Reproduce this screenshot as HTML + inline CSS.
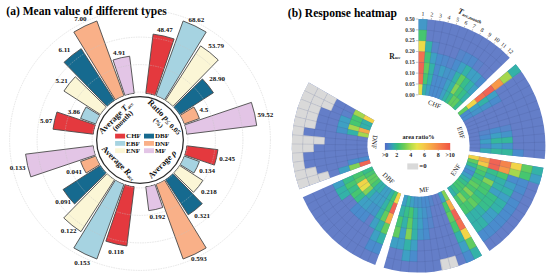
<!DOCTYPE html>
<html><head><meta charset="utf-8"><style>
html,body{margin:0;padding:0;background:#fff;}
svg{display:block;}
text{font-family:"Liberation Serif", serif;}
.vl{font-size:7px;font-weight:bold;fill:#111;}
.hl{font-size:8.5px;font-weight:bold;fill:#111;}
.hl2{font-size:6.5px;font-weight:bold;fill:#111;}
.hl3{font-size:7.4px;font-weight:bold;fill:#111;}
.lg{font-size:7px;font-weight:bold;fill:#111;}
.yl{font-size:5.4px;font-weight:bold;fill:#3a3a3a;}
.rl{font-size:7.6px;font-weight:bold;fill:#222;}
.ml{font-size:5.8px;fill:#222;}
.tl{font-size:8px;font-weight:bold;fill:#222;}
.sl{font-size:6.8px;fill:#222;}
.cbt{font-size:6.2px;font-weight:bold;fill:#222;}
.cbl{font-size:6px;font-weight:bold;fill:#222;}
.ttl{font-size:11.55px;font-weight:bold;fill:#000;}
</style></head><body>
<svg width="550" height="279" viewBox="0 0 550 279" xmlns="http://www.w3.org/2000/svg">
<rect width="550" height="279" fill="#fff"/>
<text x="6.3" y="15.2" class="ttl">(a) Mean value of different types</text>
<text x="287.8" y="16.5" class="ttl">(b) Response heatmap</text>
<g id="left">
<path d="M145.77,93.36L153.11,34.13A106.68,106.68 0 0 1 174.13,38.93L155.04,95.47A47.00,47.00 0 0 0 145.77,93.36Z" fill="#e4393e" stroke="#4a4a4a" stroke-width="0.9"/>
<path d="M156.01,95.81L183.12,20.97A126.60,126.60 0 0 1 206.18,32.07L164.57,99.93A47.00,47.00 0 0 0 156.01,95.81Z" fill="#a6d3e1" stroke="#4a4a4a" stroke-width="0.9"/>
<path d="M165.44,100.48L200.59,45.88A111.94,111.94 0 0 1 218.28,59.99L172.87,106.40A47.00,47.00 0 0 0 165.44,100.48Z" fill="#fbf6d6" stroke="#4a4a4a" stroke-width="0.9"/>
<path d="M173.60,107.13L202.42,78.93A87.33,87.33 0 0 1 213.43,92.73L179.52,114.56A47.00,47.00 0 0 0 173.60,107.13Z" fill="#166a8f" stroke="#4a4a4a" stroke-width="0.9"/>
<path d="M180.07,115.43L193.88,106.96A63.20,63.20 0 0 1 199.42,118.47L184.19,123.99A47.00,47.00 0 0 0 180.07,115.43Z" fill="#f9b088" stroke="#4a4a4a" stroke-width="0.9"/>
<path d="M184.53,124.96L251.42,102.38A117.60,117.60 0 0 1 256.71,125.55L186.64,134.23A47.00,47.00 0 0 0 184.53,124.96Z" fill="#e3c5e6" stroke="#4a4a4a" stroke-width="0.9"/>
<path d="M186.64,145.77L217.94,149.65A78.53,78.53 0 0 1 214.41,165.12L184.53,155.04A47.00,47.00 0 0 0 186.64,145.77Z" fill="#e4393e" stroke="#4a4a4a" stroke-width="0.9"/>
<path d="M184.19,156.01L199.42,161.53A63.20,63.20 0 0 1 193.88,173.04L180.07,164.57A47.00,47.00 0 0 0 184.19,156.01Z" fill="#a6d3e1" stroke="#4a4a4a" stroke-width="0.9"/>
<path d="M179.52,165.44L202.90,180.49A74.80,74.80 0 0 1 193.47,192.31L173.60,172.87A47.00,47.00 0 0 0 179.52,165.44Z" fill="#fbf6d6" stroke="#4a4a4a" stroke-width="0.9"/>
<path d="M172.87,173.60L202.26,203.64A89.03,89.03 0 0 1 188.19,214.86L165.44,179.52A47.00,47.00 0 0 0 172.87,173.60Z" fill="#166a8f" stroke="#4a4a4a" stroke-width="0.9"/>
<path d="M164.57,180.07L206.18,247.93A126.60,126.60 0 0 1 183.12,259.03L156.01,184.19A47.00,47.00 0 0 0 164.57,180.07Z" fill="#f9b088" stroke="#4a4a4a" stroke-width="0.9"/>
<path d="M155.04,184.53L162.78,207.47A71.21,71.21 0 0 1 148.75,210.67L145.77,186.64A47.00,47.00 0 0 0 155.04,184.53Z" fill="#e3c5e6" stroke="#4a4a4a" stroke-width="0.9"/>
<path d="M134.23,186.64L126.88,245.98A106.79,106.79 0 0 1 105.84,241.18L124.96,184.53A47.00,47.00 0 0 0 134.23,186.64Z" fill="#e4393e" stroke="#4a4a4a" stroke-width="0.9"/>
<path d="M123.99,184.19L96.88,259.03A126.60,126.60 0 0 1 73.82,247.93L115.43,180.07A47.00,47.00 0 0 0 123.99,184.19Z" fill="#a6d3e1" stroke="#4a4a4a" stroke-width="0.9"/>
<path d="M114.56,179.52L80.97,231.69A109.05,109.05 0 0 1 63.74,217.95L107.13,173.60A47.00,47.00 0 0 0 114.56,179.52Z" fill="#fbf6d6" stroke="#4a4a4a" stroke-width="0.9"/>
<path d="M106.40,172.87L74.59,203.99A91.50,91.50 0 0 1 63.06,189.53L100.48,165.44A47.00,47.00 0 0 0 106.40,172.87Z" fill="#166a8f" stroke="#4a4a4a" stroke-width="0.9"/>
<path d="M99.93,164.57L86.12,173.04A63.20,63.20 0 0 1 80.58,161.53L95.81,156.01A47.00,47.00 0 0 0 99.93,164.57Z" fill="#f9b088" stroke="#4a4a4a" stroke-width="0.9"/>
<path d="M95.47,155.04L30.78,176.88A115.28,115.28 0 0 1 25.59,154.16L93.36,145.77A47.00,47.00 0 0 0 95.47,155.04Z" fill="#e3c5e6" stroke="#4a4a4a" stroke-width="0.9"/>
<path d="M93.36,134.23L53.03,129.23A87.63,87.63 0 0 1 56.97,111.97L95.47,124.96A47.00,47.00 0 0 0 93.36,134.23Z" fill="#e4393e" stroke="#4a4a4a" stroke-width="0.9"/>
<path d="M95.81,123.99L80.58,118.47A63.20,63.20 0 0 1 86.12,106.96L99.93,115.43A47.00,47.00 0 0 0 95.81,123.99Z" fill="#a6d3e1" stroke="#4a4a4a" stroke-width="0.9"/>
<path d="M100.48,114.56L63.94,91.04A90.46,90.46 0 0 1 75.34,76.74L106.40,107.13A47.00,47.00 0 0 0 100.48,114.56Z" fill="#fbf6d6" stroke="#4a4a4a" stroke-width="0.9"/>
<path d="M107.13,106.40L64.03,62.35A108.63,108.63 0 0 1 81.20,48.66L114.56,100.48A47.00,47.00 0 0 0 107.13,106.40Z" fill="#166a8f" stroke="#4a4a4a" stroke-width="0.9"/>
<path d="M115.43,99.93L73.82,32.07A126.60,126.60 0 0 1 96.88,20.97L123.99,95.81A47.00,47.00 0 0 0 115.43,99.93Z" fill="#f9b088" stroke="#4a4a4a" stroke-width="0.9"/>
<path d="M124.96,95.47L113.00,60.03A84.40,84.40 0 0 1 129.63,56.24L134.23,93.36A47.00,47.00 0 0 0 124.96,95.47Z" fill="#e3c5e6" stroke="#4a4a4a" stroke-width="0.9"/>
<circle cx="140.0" cy="140.0" r="47.9" fill="none" stroke="#c4c4c4" stroke-width="0.5" stroke-dasharray="1.6 0.9" opacity="0.8"/>
<circle cx="140.0" cy="140.0" r="75.4" fill="none" stroke="#c4c4c4" stroke-width="0.5" stroke-dasharray="1.6 0.9" opacity="0.8"/>
<circle cx="140.0" cy="140.0" r="102.9" fill="none" stroke="#c4c4c4" stroke-width="0.5" stroke-dasharray="1.6 0.9" opacity="0.8"/>
<circle cx="140.0" cy="140.0" r="130.4" fill="none" stroke="#c4c4c4" stroke-width="0.5" stroke-dasharray="1.6 0.9" opacity="0.8"/>
<circle cx="140.0" cy="140.0" r="46.6" fill="#fff"/>
<circle cx="140.0" cy="140.0" r="43.35" fill="none" stroke="#2a2a2a" stroke-width="1.25"/>
<text x="164.9" y="31.9" text-anchor="middle" class="vl">48.47</text>
<text x="196.3" y="22.0" text-anchor="middle" class="vl">68.62</text>
<text x="216.0" y="47.9" text-anchor="middle" class="vl">53.79</text>
<text x="217.0" y="81.1" text-anchor="middle" class="vl">28.90</text>
<text x="203.8" y="111.5" text-anchor="middle" class="vl">4.5</text>
<text x="265.4" y="116.8" text-anchor="middle" class="vl">59.52</text>
<text x="227.1" y="161.0" text-anchor="middle" class="vl">0.245</text>
<text x="207.0" y="172.9" text-anchor="middle" class="vl">0.134</text>
<text x="208.9" y="193.5" text-anchor="middle" class="vl">0.218</text>
<text x="202.0" y="217.9" text-anchor="middle" class="vl">0.321</text>
<text x="198.9" y="260.8" text-anchor="middle" class="vl">0.593</text>
<text x="157.3" y="218.8" text-anchor="middle" class="vl">0.192</text>
<text x="116.0" y="253.9" text-anchor="middle" class="vl">0.118</text>
<text x="82.1" y="264.5" text-anchor="middle" class="vl">0.153</text>
<text x="68.7" y="233.0" text-anchor="middle" class="vl">0.122</text>
<text x="63.0" y="204.2" text-anchor="middle" class="vl">0.091</text>
<text x="74.1" y="174.2" text-anchor="middle" class="vl">0.041</text>
<text x="17.5" y="170.2" text-anchor="middle" class="vl">0.133</text>
<text x="46.0" y="123.3" text-anchor="middle" class="vl">5.07</text>
<text x="73.8" y="113.9" text-anchor="middle" class="vl">3.86</text>
<text x="61.7" y="83.3" text-anchor="middle" class="vl">5.21</text>
<text x="64.4" y="51.6" text-anchor="middle" class="vl">6.11</text>
<text x="80.4" y="21.4" text-anchor="middle" class="vl">7.00</text>
<text x="119.1" y="54.6" text-anchor="middle" class="vl">4.91</text>
<text x="117.5" y="119.0" transform="rotate(-45 117.5 119.0)" text-anchor="middle" class="hl">Average <tspan font-style="italic">T</tspan><tspan font-size="4.8px" dy="1.2">acc</tspan></text>
<text x="124.2" y="122.6" transform="rotate(-45 124.2 122.6)" text-anchor="middle" class="hl3">(month)</text>
<text x="163.0" y="118.6" transform="rotate(45 163.0 118.6)" text-anchor="middle" class="hl">Ratio <tspan font-style="italic">p</tspan><tspan font-size="7.2px" dy="1.4">≤ 0.05</tspan></text>
<text x="156.6" y="124.4" transform="rotate(45 156.6 124.4)" text-anchor="middle" class="hl2">(%)</text>
<text x="117.0" y="165.1" transform="rotate(45 117.0 165.1)" text-anchor="middle" class="hl">Average <tspan font-style="italic" font-size="9px">R</tspan><tspan font-size="5px" dy="1.2">acc</tspan></text>
<text x="164.2" y="166.2" transform="rotate(-45 164.2 166.2)" text-anchor="middle" class="hl">Average <tspan font-style="italic" font-size="8.6px">ρ</tspan></text>
<rect x="115.1" y="133.7" width="10" height="4.8" fill="#e4393e"/>
<text x="126.1" y="138.39999999999998" class="lg">CHF</text>
<rect x="144.0" y="133.7" width="10" height="4.8" fill="#166a8f"/>
<text x="155.0" y="138.39999999999998" class="lg">DBF</text>
<rect x="115.1" y="141.0" width="10" height="4.8" fill="#a6d3e1"/>
<text x="126.1" y="145.7" class="lg">EBF</text>
<rect x="144.0" y="141.0" width="10" height="4.8" fill="#f9b088"/>
<text x="155.0" y="145.7" class="lg">DNF</text>
<rect x="115.1" y="148.3" width="10" height="4.8" fill="#fbf6d6"/>
<text x="126.1" y="153.0" class="lg">ENF</text>
<rect x="144.0" y="148.3" width="10" height="4.8" fill="#e3c5e6"/>
<text x="155.0" y="153.0" class="lg">MF</text>
</g>
<g id="right">
<path d="M418.60,94.80L418.60,19.00A126.80,126.80 0 0 1 509.81,57.72L455.29,110.37A51.00,51.00 0 0 0 418.60,94.80Z" fill="#647ec8"/>
<path d="M418.60,30.13L418.60,19.00A126.80,126.80 0 0 1 427.63,19.32L426.84,30.42A115.67,115.67 0 0 0 418.60,30.13Z" fill="#4398c8"/>
<path d="M418.60,40.96L418.60,29.83A115.97,115.97 0 0 1 426.86,30.12L426.07,41.22A104.84,104.84 0 0 0 418.60,40.96Z" fill="#46c670"/>
<path d="M418.60,51.79L418.60,40.66A105.14,105.14 0 0 1 426.09,40.92L425.29,52.02A94.01,94.01 0 0 0 418.60,51.79Z" fill="#ebda48"/>
<path d="M424.89,52.00L425.63,40.89A105.14,105.14 0 0 1 433.08,41.66L431.55,52.68A94.01,94.01 0 0 0 424.89,52.00Z" fill="#34b2a8"/>
<path d="M431.14,52.63L432.63,41.60A105.14,105.14 0 0 1 440.01,42.86L437.75,53.76A94.01,94.01 0 0 0 431.14,52.63Z" fill="#5785ca"/>
<path d="M455.33,59.26L459.68,49.02A105.14,105.14 0 0 1 466.47,52.19L461.40,62.09A94.01,94.01 0 0 0 455.33,59.26Z" fill="#5785ca"/>
<path d="M461.04,61.91L466.06,51.98A105.14,105.14 0 0 1 472.62,55.60L466.90,65.14A94.01,94.01 0 0 0 461.04,61.91Z" fill="#4f89cc"/>
<path d="M466.55,64.93L472.23,55.36A105.14,105.14 0 0 1 478.53,59.41L472.19,68.55A94.01,94.01 0 0 0 466.55,64.93Z" fill="#4f89cc"/>
<path d="M471.85,68.32L478.15,59.15A105.14,105.14 0 0 1 484.17,63.61L477.23,72.31A94.01,94.01 0 0 0 471.85,68.32Z" fill="#5c82ca"/>
<path d="M418.60,62.61L418.60,51.49A94.31,94.31 0 0 1 425.32,51.73L424.52,62.83A83.19,83.19 0 0 0 418.60,62.61Z" fill="#f37050"/>
<path d="M424.16,62.80L424.91,51.70A94.31,94.31 0 0 1 431.59,52.38L430.06,63.41A83.19,83.19 0 0 0 424.16,62.80Z" fill="#40c37a"/>
<path d="M429.70,63.36L431.18,52.33A94.31,94.31 0 0 1 437.81,53.46L435.54,64.36A83.19,83.19 0 0 0 429.70,63.36Z" fill="#3ea0c4"/>
<path d="M435.18,64.28L437.40,53.38A94.31,94.31 0 0 1 443.94,54.95L440.95,65.67A83.19,83.19 0 0 0 435.18,64.28Z" fill="#4a8ccd"/>
<path d="M440.60,65.58L443.54,54.84A94.31,94.31 0 0 1 449.95,56.85L446.25,67.35A83.19,83.19 0 0 0 440.60,65.58Z" fill="#4f89cc"/>
<path d="M445.91,67.23L449.56,56.71A94.31,94.31 0 0 1 455.83,59.14L451.44,69.37A83.19,83.19 0 0 0 445.91,67.23Z" fill="#5785ca"/>
<path d="M451.10,69.23L455.45,58.98A94.31,94.31 0 0 1 461.54,61.83L456.47,71.74A83.19,83.19 0 0 0 451.10,69.23Z" fill="#4a8ccd"/>
<path d="M456.15,71.57L461.17,61.64A94.31,94.31 0 0 1 467.06,64.89L461.34,74.43A83.19,83.19 0 0 0 456.15,71.57Z" fill="#3ea0c4"/>
<path d="M461.03,74.25L466.70,64.68A94.31,94.31 0 0 1 472.36,68.31L466.02,77.45A83.19,83.19 0 0 0 461.03,74.25Z" fill="#34b2a8"/>
<path d="M465.72,77.24L472.02,68.07A94.31,94.31 0 0 1 477.42,72.07L470.48,80.77A83.19,83.19 0 0 0 465.72,77.24Z" fill="#3ea0c4"/>
<path d="M470.19,80.55L477.10,71.82A94.31,94.31 0 0 1 482.22,76.17L474.71,84.39A83.19,83.19 0 0 0 470.19,80.55Z" fill="#3ea0c4"/>
<path d="M474.44,84.14L481.91,75.89A94.31,94.31 0 0 1 486.44,80.28L478.44,88.01A83.19,83.19 0 0 0 474.44,84.14Z" fill="#4a8ccd"/>
<path d="M418.60,73.44L418.60,62.31A83.49,83.49 0 0 1 424.54,62.53L423.75,73.63A72.36,72.36 0 0 0 418.60,73.44Z" fill="#f06454"/>
<path d="M423.44,73.60L424.18,62.50A83.49,83.49 0 0 1 430.10,63.11L428.57,74.13A72.36,72.36 0 0 0 423.44,73.60Z" fill="#60cc60"/>
<path d="M428.25,74.09L429.74,63.06A83.49,83.49 0 0 1 435.60,64.06L433.33,74.96A72.36,72.36 0 0 0 428.25,74.09Z" fill="#34b2a8"/>
<path d="M433.03,74.90L435.24,63.99A83.49,83.49 0 0 1 441.03,65.38L438.04,76.10A72.36,72.36 0 0 0 433.03,74.90Z" fill="#4a8ccd"/>
<path d="M437.73,76.02L440.68,65.29A83.49,83.49 0 0 1 446.35,67.06L442.65,77.56A72.36,72.36 0 0 0 437.73,76.02Z" fill="#3ea0c4"/>
<path d="M442.36,77.45L446.01,66.94A83.49,83.49 0 0 1 451.56,69.09L447.16,79.32A72.36,72.36 0 0 0 442.36,77.45Z" fill="#4594c9"/>
<path d="M446.87,79.19L451.22,68.95A83.49,83.49 0 0 1 456.61,71.47L451.54,81.38A72.36,72.36 0 0 0 446.87,79.19Z" fill="#4594c9"/>
<path d="M451.26,81.23L456.29,71.30A83.49,83.49 0 0 1 461.49,74.18L455.78,83.72A72.36,72.36 0 0 0 451.26,81.23Z" fill="#34b2a8"/>
<path d="M455.51,83.56L461.18,73.99A83.49,83.49 0 0 1 466.19,77.20L459.84,86.35A72.36,72.36 0 0 0 455.51,83.56Z" fill="#60cc60"/>
<path d="M459.58,86.17L465.89,77.00A83.49,83.49 0 0 1 470.67,80.54L463.73,89.24A72.36,72.36 0 0 0 459.58,86.17Z" fill="#38be8a"/>
<path d="M463.48,89.04L470.38,80.31A83.49,83.49 0 0 1 474.91,84.17L467.41,92.38A72.36,72.36 0 0 0 463.48,89.04Z" fill="#34b2a8"/>
<path d="M467.17,92.17L474.64,83.92A83.49,83.49 0 0 1 478.65,87.81L470.65,95.54A72.36,72.36 0 0 0 467.17,92.17Z" fill="#3ea0c4"/>
<path d="M418.60,84.27L418.60,73.14A72.66,72.66 0 0 1 423.77,73.33L422.98,84.43A61.53,61.53 0 0 0 418.60,84.27Z" fill="#f37050"/>
<path d="M422.71,84.41L423.46,73.31A72.66,72.66 0 0 1 428.61,73.84L427.07,84.86A61.53,61.53 0 0 0 422.71,84.41Z" fill="#46c670"/>
<path d="M426.81,84.82L428.29,73.79A72.66,72.66 0 0 1 433.40,74.67L431.13,85.56A61.53,61.53 0 0 0 426.81,84.82Z" fill="#34b2a8"/>
<path d="M430.87,85.51L433.09,74.60A72.66,72.66 0 0 1 438.12,75.81L435.13,86.53A61.53,61.53 0 0 0 430.87,85.51Z" fill="#4a8ccd"/>
<path d="M434.87,86.46L437.81,75.73A72.66,72.66 0 0 1 442.75,77.28L439.05,87.77A61.53,61.53 0 0 0 434.87,86.46Z" fill="#4a8ccd"/>
<path d="M438.80,87.68L442.45,77.17A72.66,72.66 0 0 1 447.28,79.04L442.89,89.27A61.53,61.53 0 0 0 438.80,87.68Z" fill="#4a8ccd"/>
<path d="M442.64,89.16L446.99,78.92A72.66,72.66 0 0 1 451.68,81.11L446.61,91.02A61.53,61.53 0 0 0 442.64,89.16Z" fill="#3ea0c4"/>
<path d="M446.37,90.90L451.40,80.97A72.66,72.66 0 0 1 455.93,83.47L450.21,93.01A61.53,61.53 0 0 0 446.37,90.90Z" fill="#34b2a8"/>
<path d="M449.98,92.88L455.66,83.30A72.66,72.66 0 0 1 460.01,86.10L453.67,95.25A61.53,61.53 0 0 0 449.98,92.88Z" fill="#82d256"/>
<path d="M453.45,95.09L459.75,85.92A72.66,72.66 0 0 1 463.91,89.00L456.97,97.70A61.53,61.53 0 0 0 453.45,95.09Z" fill="#46c670"/>
<path d="M456.76,97.54L463.66,88.81A72.66,72.66 0 0 1 467.61,92.16L460.10,100.38A61.53,61.53 0 0 0 456.76,97.54Z" fill="#38be8a"/>
<path d="M459.90,100.20L467.37,91.95A72.66,72.66 0 0 1 470.87,95.33L462.86,103.06A61.53,61.53 0 0 0 459.90,100.20Z" fill="#34b2a8"/>
<path d="M418.60,94.80L418.60,83.97A61.83,61.83 0 0 1 423.00,84.13L422.23,94.93A51.00,51.00 0 0 0 418.60,94.80Z" fill="#e6de48"/>
<path d="M422.01,94.91L422.73,84.11A61.83,61.83 0 0 1 427.12,84.56L425.62,95.29A51.00,51.00 0 0 0 422.01,94.91Z" fill="#34b2a8"/>
<path d="M425.40,95.26L426.85,84.52A61.83,61.83 0 0 1 431.19,85.27L428.99,95.87A51.00,51.00 0 0 0 425.40,95.26Z" fill="#3ea0c4"/>
<path d="M428.77,95.82L430.93,85.21A61.83,61.83 0 0 1 435.21,86.24L432.30,96.67A51.00,51.00 0 0 0 428.77,95.82Z" fill="#4a8ccd"/>
<path d="M432.09,96.62L434.95,86.17A61.83,61.83 0 0 1 439.15,87.49L435.55,97.70A51.00,51.00 0 0 0 432.09,96.62Z" fill="#4a8ccd"/>
<path d="M435.34,97.63L438.90,87.40A61.83,61.83 0 0 1 443.01,88.99L438.73,98.94A51.00,51.00 0 0 0 435.34,97.63Z" fill="#4a8ccd"/>
<path d="M438.53,98.85L442.76,88.89A61.83,61.83 0 0 1 446.75,90.75L441.82,100.39A51.00,51.00 0 0 0 438.53,98.85Z" fill="#3ea0c4"/>
<path d="M441.62,100.29L446.51,90.63A61.83,61.83 0 0 1 450.37,92.76L444.80,102.05A51.00,51.00 0 0 0 441.62,100.29Z" fill="#34b2a8"/>
<path d="M444.61,101.93L450.14,92.62A61.83,61.83 0 0 1 453.84,95.00L447.67,103.90A51.00,51.00 0 0 0 444.61,101.93Z" fill="#38be8a"/>
<path d="M447.49,103.77L453.62,94.85A61.83,61.83 0 0 1 457.16,97.47L450.41,105.93A51.00,51.00 0 0 0 447.49,103.77Z" fill="#60cc60"/>
<path d="M450.23,105.79L456.95,97.30A61.83,61.83 0 0 1 460.30,100.15L453.00,108.15A51.00,51.00 0 0 0 450.23,105.79Z" fill="#60cc60"/>
<path d="M452.84,108.00L460.10,99.97A61.83,61.83 0 0 1 463.08,102.85L455.29,110.37A51.00,51.00 0 0 0 452.84,108.00Z" fill="#38be8a"/>
<path d="M418.60,29.83A115.97,115.97 0 0 1 502.02,65.24M418.60,40.66A105.14,105.14 0 0 1 494.23,72.76M418.60,51.49A94.31,94.31 0 0 1 486.44,80.28M418.60,62.31A83.49,83.49 0 0 1 478.65,87.81M418.60,73.14A72.66,72.66 0 0 1 470.87,95.33M418.60,83.97A61.83,61.83 0 0 1 463.08,102.85M422.01,94.91L427.08,19.28M425.40,95.26L435.52,20.13M428.77,95.82L443.88,21.55M432.09,96.62L452.13,23.51M435.34,97.63L460.23,26.03M438.53,98.85L468.14,29.08M441.62,100.29L475.84,32.65M444.61,101.93L483.27,36.73M447.49,103.77L490.42,41.30M450.23,105.79L497.25,46.34M452.84,108.00L503.72,51.82" fill="none" stroke="#34457a" stroke-width="0.45" stroke-opacity="0.3"/>
<path d="M457.67,113.02L515.73,64.29A126.80,126.80 0 0 1 544.71,159.05L469.32,151.13A51.00,51.00 0 0 0 457.67,113.02Z" fill="#647ec8"/>
<path d="M507.21,71.45L515.73,64.29A126.80,126.80 0 0 1 521.29,71.42L512.28,77.95A115.67,115.67 0 0 0 507.21,71.45Z" fill="#34b2a8"/>
<path d="M498.91,78.41L507.44,71.26A115.97,115.97 0 0 1 512.52,77.77L503.51,84.30A104.84,104.84 0 0 0 498.91,78.41Z" fill="#a5d74e"/>
<path d="M490.62,85.37L499.14,78.22A105.14,105.14 0 0 1 503.75,84.12L494.74,90.65A94.01,94.01 0 0 0 490.62,85.37Z" fill="#f79848"/>
<path d="M512.55,149.35L523.67,149.78A105.14,105.14 0 0 1 523.17,156.79L512.10,155.63A94.01,94.01 0 0 0 512.55,149.35Z" fill="#4a8ccd"/>
<path d="M482.32,92.33L490.85,85.18A94.31,94.31 0 0 1 494.98,90.47L485.97,97.00A83.19,83.19 0 0 0 482.32,92.33Z" fill="#f06454"/>
<path d="M485.76,96.71L494.74,90.14A94.31,94.31 0 0 1 498.51,95.70L489.08,101.62A83.19,83.19 0 0 0 485.76,96.71Z" fill="#3ea0c4"/>
<path d="M488.89,101.31L498.29,95.36A94.31,94.31 0 0 1 501.68,101.16L491.88,106.43A83.19,83.19 0 0 0 488.89,101.31Z" fill="#4a8ccd"/>
<path d="M499.60,126.85L510.43,124.32A94.31,94.31 0 0 1 511.73,130.91L500.74,132.67A83.19,83.19 0 0 0 499.60,126.85Z" fill="#5785ca"/>
<path d="M500.68,132.31L511.67,130.50A94.31,94.31 0 0 1 512.52,137.17L501.44,138.19A83.19,83.19 0 0 0 500.68,132.31Z" fill="#4594c9"/>
<path d="M501.40,137.83L512.48,136.76A94.31,94.31 0 0 1 512.89,143.47L501.76,143.74A83.19,83.19 0 0 0 501.40,137.83Z" fill="#36b79c"/>
<path d="M501.75,143.38L512.87,143.06A94.31,94.31 0 0 1 512.83,149.78L501.71,149.31A83.19,83.19 0 0 0 501.75,143.38Z" fill="#4594c9"/>
<path d="M501.73,148.94L512.85,149.37A94.31,94.31 0 0 1 512.40,155.66L501.33,154.50A83.19,83.19 0 0 0 501.73,148.94Z" fill="#36b79c"/>
<path d="M474.03,99.29L482.55,92.14A83.49,83.49 0 0 1 486.21,96.83L477.20,103.35A72.36,72.36 0 0 0 474.03,99.29Z" fill="#f37050"/>
<path d="M477.01,103.10L486.00,96.53A83.49,83.49 0 0 1 489.34,101.46L479.91,107.37A72.36,72.36 0 0 0 477.01,103.10Z" fill="#34b2a8"/>
<path d="M479.74,107.10L489.14,101.15A83.49,83.49 0 0 1 492.14,106.28L482.34,111.55A72.36,72.36 0 0 0 479.74,107.10Z" fill="#4594c9"/>
<path d="M489.05,129.32L499.89,126.78A83.49,83.49 0 0 1 501.04,132.62L490.05,134.38A72.36,72.36 0 0 0 489.05,129.32Z" fill="#4a8ccd"/>
<path d="M490.00,134.07L500.98,132.26A83.49,83.49 0 0 1 501.74,138.16L490.65,139.18A72.36,72.36 0 0 0 490.00,134.07Z" fill="#3ea0c4"/>
<path d="M490.62,138.86L501.70,137.80A83.49,83.49 0 0 1 502.06,143.74L490.94,144.01A72.36,72.36 0 0 0 490.62,138.86Z" fill="#36b79c"/>
<path d="M490.93,143.70L502.05,143.37A83.49,83.49 0 0 1 502.01,149.32L490.89,148.85A72.36,72.36 0 0 0 490.93,143.70Z" fill="#3ea0c4"/>
<path d="M490.91,148.54L502.03,148.96A83.49,83.49 0 0 1 501.63,154.53L490.56,153.36A72.36,72.36 0 0 0 490.91,148.54Z" fill="#36b79c"/>
<path d="M465.73,106.25L474.26,99.10A72.66,72.66 0 0 1 477.44,103.18L468.43,109.71A61.53,61.53 0 0 0 465.73,106.25Z" fill="#f2d448"/>
<path d="M468.27,109.49L477.26,102.92A72.66,72.66 0 0 1 480.16,107.21L470.73,113.12A61.53,61.53 0 0 0 468.27,109.49Z" fill="#3ea0c4"/>
<path d="M470.59,112.89L479.99,106.94A72.66,72.66 0 0 1 482.60,111.41L472.80,116.68A61.53,61.53 0 0 0 470.59,112.89Z" fill="#4594c9"/>
<path d="M478.51,131.78L489.35,129.25A72.66,72.66 0 0 1 490.35,134.33L479.36,136.09A61.53,61.53 0 0 0 478.51,131.78Z" fill="#5785ca"/>
<path d="M479.31,135.82L490.30,134.02A72.66,72.66 0 0 1 490.95,139.15L479.87,140.17A61.53,61.53 0 0 0 479.31,135.82Z" fill="#4a8ccd"/>
<path d="M479.85,139.90L490.92,138.84A72.66,72.66 0 0 1 491.23,144.00L480.11,144.28A61.53,61.53 0 0 0 479.85,139.90Z" fill="#3ea0c4"/>
<path d="M480.10,144.01L491.23,143.69A72.66,72.66 0 0 1 491.19,148.86L480.07,148.39A61.53,61.53 0 0 0 480.10,144.01Z" fill="#4a8ccd"/>
<path d="M480.08,148.13L491.21,148.55A72.66,72.66 0 0 1 490.86,153.39L479.79,152.23A61.53,61.53 0 0 0 480.08,148.13Z" fill="#38abb3"/>
<path d="M457.67,113.02L465.96,106.06A61.83,61.83 0 0 1 468.67,109.53L459.90,115.88A51.00,51.00 0 0 0 457.67,113.02Z" fill="#60cc60"/>
<path d="M459.77,115.70L468.51,109.31A61.83,61.83 0 0 1 470.99,112.96L461.81,118.71A51.00,51.00 0 0 0 459.77,115.70Z" fill="#4a8ccd"/>
<path d="M461.69,118.52L470.84,112.73A61.83,61.83 0 0 1 473.06,116.54L463.53,121.66A51.00,51.00 0 0 0 461.69,118.52Z" fill="#4a8ccd"/>
<path d="M507.44,71.26A115.97,115.97 0 0 1 533.94,157.92M499.14,78.22A105.14,105.14 0 0 1 523.17,156.79M490.85,85.18A94.31,94.31 0 0 1 512.40,155.66M482.55,92.14A83.49,83.49 0 0 1 501.63,154.53M474.26,99.10A72.66,72.66 0 0 1 490.86,153.39M465.96,106.06A61.83,61.83 0 0 1 480.09,152.26M459.77,115.70L520.97,70.97M461.69,118.52L525.74,77.98M463.42,121.46L530.03,85.30M464.95,124.52L533.83,92.88M466.27,127.66L537.11,100.70M467.37,130.89L539.86,108.73M468.26,134.18L542.07,116.92M468.92,137.53L543.72,125.24M469.37,140.91L544.82,133.65M469.58,144.32L545.35,142.11M469.56,147.73L545.31,150.59" fill="none" stroke="#34457a" stroke-width="0.45" stroke-opacity="0.3"/>
<path d="M468.83,154.66L543.47,167.82A126.80,126.80 0 0 1 489.51,250.92L447.12,188.08A51.00,51.00 0 0 0 468.83,154.66Z" fill="#647ec8"/>
<path d="M532.51,165.89L543.47,167.82A126.80,126.80 0 0 1 541.59,176.65L530.79,173.95A115.67,115.67 0 0 0 532.51,165.89Z" fill="#34b2a8"/>
<path d="M530.92,173.46L541.72,176.12A126.80,126.80 0 0 1 539.25,184.81L528.66,181.38A115.67,115.67 0 0 0 530.92,173.46Z" fill="#3ea0c4"/>
<path d="M521.85,164.01L532.81,165.94A115.97,115.97 0 0 1 531.09,174.02L520.29,171.31A104.84,104.84 0 0 0 521.85,164.01Z" fill="#60cc60"/>
<path d="M520.40,170.87L531.21,173.53A115.97,115.97 0 0 1 528.95,181.48L518.36,178.05A104.84,104.84 0 0 0 520.40,170.87Z" fill="#46c670"/>
<path d="M518.50,177.62L529.10,180.99A115.97,115.97 0 0 1 526.32,188.77L515.98,184.65A104.84,104.84 0 0 0 518.50,177.62Z" fill="#4a8ccd"/>
<path d="M516.15,184.23L526.50,188.30A115.97,115.97 0 0 1 523.20,195.88L513.16,191.07A104.84,104.84 0 0 0 516.15,184.23Z" fill="#4a8ccd"/>
<path d="M513.36,190.66L523.42,195.42A115.97,115.97 0 0 1 519.62,202.76L509.93,197.29A104.84,104.84 0 0 0 513.36,190.66Z" fill="#5785ca"/>
<path d="M510.15,196.90L519.87,202.32A115.97,115.97 0 0 1 515.59,209.39L506.28,203.28A104.84,104.84 0 0 0 510.15,196.90Z" fill="#4a8ccd"/>
<path d="M506.53,202.90L515.86,208.96A115.97,115.97 0 0 1 511.12,215.73L502.24,209.02A104.84,104.84 0 0 0 506.53,202.90Z" fill="#4a8ccd"/>
<path d="M502.51,208.65L511.42,215.32A115.97,115.97 0 0 1 506.24,221.76L497.83,214.47A104.84,104.84 0 0 0 502.51,208.65Z" fill="#4a8ccd"/>
<path d="M498.12,214.12L506.57,221.37A115.97,115.97 0 0 1 500.96,227.45L493.06,219.61A104.84,104.84 0 0 0 498.12,214.12Z" fill="#4a8ccd"/>
<path d="M493.38,219.29L501.32,227.09A115.97,115.97 0 0 1 495.32,232.77L487.96,224.42A104.84,104.84 0 0 0 493.38,219.29Z" fill="#4a8ccd"/>
<path d="M488.30,224.12L495.70,232.43A115.97,115.97 0 0 1 489.33,237.70L482.55,228.88A104.84,104.84 0 0 0 488.30,224.12Z" fill="#4a8ccd"/>
<path d="M482.91,228.60L489.73,237.39A115.97,115.97 0 0 1 483.45,241.94L477.23,232.72A104.84,104.84 0 0 0 482.91,228.60Z" fill="#4a8ccd"/>
<path d="M511.19,162.13L522.15,164.06A105.14,105.14 0 0 1 520.58,171.38L509.79,168.68A94.01,94.01 0 0 0 511.19,162.13Z" fill="#f2d448"/>
<path d="M509.89,168.28L520.69,170.94A105.14,105.14 0 0 1 518.64,178.15L508.06,174.72A94.01,94.01 0 0 0 509.89,168.28Z" fill="#a5d74e"/>
<path d="M508.18,174.33L518.78,177.71A105.14,105.14 0 0 1 516.26,184.76L505.92,180.64A94.01,94.01 0 0 0 508.18,174.33Z" fill="#4a8ccd"/>
<path d="M506.07,180.26L516.43,184.33A105.14,105.14 0 0 1 513.43,191.20L503.40,186.40A94.01,94.01 0 0 0 506.07,180.26Z" fill="#3ea0c4"/>
<path d="M503.57,186.03L513.63,190.79A105.14,105.14 0 0 1 510.19,197.44L500.49,191.98A94.01,94.01 0 0 0 503.57,186.03Z" fill="#34b2a8"/>
<path d="M500.69,191.62L510.41,197.04A105.14,105.14 0 0 1 506.53,203.45L497.22,197.35A94.01,94.01 0 0 0 500.69,191.62Z" fill="#3ea0c4"/>
<path d="M497.45,197.00L506.78,203.06A105.14,105.14 0 0 1 502.48,209.20L493.60,202.49A94.01,94.01 0 0 0 497.45,197.00Z" fill="#34b2a8"/>
<path d="M493.85,202.16L502.75,208.83A105.14,105.14 0 0 1 498.05,214.66L489.64,207.38A94.01,94.01 0 0 0 493.85,202.16Z" fill="#34b2a8"/>
<path d="M489.91,207.07L498.35,214.32A105.14,105.14 0 0 1 493.27,219.82L485.37,211.99A94.01,94.01 0 0 0 489.91,207.07Z" fill="#3ea0c4"/>
<path d="M485.66,211.70L493.59,219.50A105.14,105.14 0 0 1 488.16,224.65L480.79,216.30A94.01,94.01 0 0 0 485.66,211.70Z" fill="#3ea0c4"/>
<path d="M481.10,216.03L488.50,224.34A105.14,105.14 0 0 1 482.73,229.12L475.94,220.30A94.01,94.01 0 0 0 481.10,216.03Z" fill="#34b2a8"/>
<path d="M476.27,220.05L483.09,228.84A105.14,105.14 0 0 1 477.40,232.97L471.17,223.74A94.01,94.01 0 0 0 476.27,220.05Z" fill="#34b2a8"/>
<path d="M500.52,160.25L511.48,162.18A94.31,94.31 0 0 1 510.08,168.75L499.29,166.04A83.19,83.19 0 0 0 500.52,160.25Z" fill="#f5844c"/>
<path d="M499.37,165.69L510.18,168.35A94.31,94.31 0 0 1 508.34,174.81L497.75,171.39A83.19,83.19 0 0 0 499.37,165.69Z" fill="#f79848"/>
<path d="M497.86,171.05L508.47,174.42A94.31,94.31 0 0 1 506.20,180.75L495.86,176.63A83.19,83.19 0 0 0 497.86,171.05Z" fill="#46c670"/>
<path d="M496.00,176.29L506.35,180.37A94.31,94.31 0 0 1 503.67,186.53L493.63,181.72A83.19,83.19 0 0 0 496.00,176.29Z" fill="#34b2a8"/>
<path d="M493.79,181.39L503.84,186.16A94.31,94.31 0 0 1 500.75,192.12L491.06,186.66A83.19,83.19 0 0 0 493.79,181.39Z" fill="#34b2a8"/>
<path d="M491.24,186.34L500.96,191.76A94.31,94.31 0 0 1 497.47,197.51L488.17,191.41A83.19,83.19 0 0 0 491.24,186.34Z" fill="#3ea0c4"/>
<path d="M488.37,191.11L497.70,197.17A94.31,94.31 0 0 1 493.84,202.67L484.96,195.96A83.19,83.19 0 0 0 488.37,191.11Z" fill="#38be8a"/>
<path d="M485.18,195.67L494.09,202.34A94.31,94.31 0 0 1 489.87,207.57L481.46,200.28A83.19,83.19 0 0 0 485.18,195.67Z" fill="#38be8a"/>
<path d="M481.70,200.01L490.14,207.26A94.31,94.31 0 0 1 485.58,212.20L477.68,204.36A83.19,83.19 0 0 0 481.70,200.01Z" fill="#38be8a"/>
<path d="M477.93,204.11L485.87,211.91A94.31,94.31 0 0 1 480.99,216.53L473.63,208.18A83.19,83.19 0 0 0 477.93,204.11Z" fill="#34b2a8"/>
<path d="M473.90,207.94L481.30,216.26A94.31,94.31 0 0 1 476.12,220.54L469.34,211.72A83.19,83.19 0 0 0 473.90,207.94Z" fill="#34b2a8"/>
<path d="M469.62,211.50L476.45,220.29A94.31,94.31 0 0 1 471.34,223.99L465.12,214.76A83.19,83.19 0 0 0 469.62,211.50Z" fill="#34b2a8"/>
<path d="M489.86,158.36L500.82,160.30A83.49,83.49 0 0 1 499.58,166.11L488.78,163.41A72.36,72.36 0 0 0 489.86,158.36Z" fill="#f06454"/>
<path d="M488.86,163.10L499.66,165.76A83.49,83.49 0 0 1 498.04,171.48L487.45,168.06A72.36,72.36 0 0 0 488.86,163.10Z" fill="#f06454"/>
<path d="M487.54,167.76L498.15,171.14A83.49,83.49 0 0 1 496.14,176.74L485.81,172.61A72.36,72.36 0 0 0 487.54,167.76Z" fill="#38be8a"/>
<path d="M485.92,172.32L496.28,176.40A83.49,83.49 0 0 1 493.90,181.85L483.86,177.05A72.36,72.36 0 0 0 485.92,172.32Z" fill="#34b2a8"/>
<path d="M484.00,176.76L494.06,181.52A83.49,83.49 0 0 1 491.32,186.80L481.63,181.34A72.36,72.36 0 0 0 484.00,176.76Z" fill="#82d256"/>
<path d="M481.78,181.06L491.50,186.49A83.49,83.49 0 0 1 488.42,191.57L479.11,185.47A72.36,72.36 0 0 0 481.78,181.06Z" fill="#46c670"/>
<path d="M479.28,185.21L488.62,191.27A83.49,83.49 0 0 1 485.20,196.14L476.32,189.43A72.36,72.36 0 0 0 479.28,185.21Z" fill="#46c670"/>
<path d="M476.51,189.18L485.42,195.85A83.49,83.49 0 0 1 481.69,200.48L473.28,193.19A72.36,72.36 0 0 0 476.51,189.18Z" fill="#38be8a"/>
<path d="M473.48,192.95L481.93,200.20A83.49,83.49 0 0 1 477.89,204.58L469.99,196.74A72.36,72.36 0 0 0 473.48,192.95Z" fill="#46c670"/>
<path d="M470.21,196.52L478.15,204.32A83.49,83.49 0 0 1 473.83,208.41L466.47,200.06A72.36,72.36 0 0 0 470.21,196.52Z" fill="#60cc60"/>
<path d="M466.70,199.85L474.10,208.17A83.49,83.49 0 0 1 469.52,211.96L462.73,203.14A72.36,72.36 0 0 0 466.70,199.85Z" fill="#46c670"/>
<path d="M462.98,202.95L469.81,211.74A83.49,83.49 0 0 1 465.28,215.01L459.06,205.79A72.36,72.36 0 0 0 462.98,202.95Z" fill="#46c670"/>
<path d="M479.19,156.48L490.15,158.42A72.66,72.66 0 0 1 489.07,163.48L478.28,160.77A61.53,61.53 0 0 0 479.19,156.48Z" fill="#f6aa47"/>
<path d="M478.34,160.51L489.15,163.17A72.66,72.66 0 0 1 487.73,168.15L477.14,164.73A61.53,61.53 0 0 0 478.34,160.51Z" fill="#f4c847"/>
<path d="M477.23,164.47L487.83,167.85A72.66,72.66 0 0 1 486.08,172.72L475.75,168.60A61.53,61.53 0 0 0 477.23,164.47Z" fill="#60cc60"/>
<path d="M475.85,168.35L486.20,172.43A72.66,72.66 0 0 1 484.13,177.18L474.10,172.37A61.53,61.53 0 0 0 475.85,168.35Z" fill="#46c670"/>
<path d="M474.21,172.13L484.27,176.89A72.66,72.66 0 0 1 481.89,181.49L472.20,176.02A61.53,61.53 0 0 0 474.21,172.13Z" fill="#38be8a"/>
<path d="M472.33,175.79L482.04,181.21A72.66,72.66 0 0 1 479.36,185.64L470.06,179.54A61.53,61.53 0 0 0 472.33,175.79Z" fill="#46c670"/>
<path d="M470.20,179.31L479.54,185.37A72.66,72.66 0 0 1 476.56,189.61L467.68,182.90A61.53,61.53 0 0 0 470.20,179.31Z" fill="#60cc60"/>
<path d="M467.85,182.69L476.75,189.36A72.66,72.66 0 0 1 473.50,193.39L465.09,186.10A61.53,61.53 0 0 0 467.85,182.69Z" fill="#46c670"/>
<path d="M465.27,185.90L473.71,193.15A72.66,72.66 0 0 1 470.20,196.95L462.30,189.12A61.53,61.53 0 0 0 465.27,185.90Z" fill="#82d256"/>
<path d="M462.49,188.93L470.42,196.73A72.66,72.66 0 0 1 466.66,200.29L459.30,191.94A61.53,61.53 0 0 0 462.49,188.93Z" fill="#46c670"/>
<path d="M459.50,191.76L466.90,200.08A72.66,72.66 0 0 1 462.91,203.38L456.13,194.56A61.53,61.53 0 0 0 459.50,191.76Z" fill="#82d256"/>
<path d="M456.34,194.40L463.17,203.18A72.66,72.66 0 0 1 459.23,206.04L453.01,196.81A61.53,61.53 0 0 0 456.34,194.40Z" fill="#46c670"/>
<path d="M468.83,154.66L479.49,156.54A61.83,61.83 0 0 1 478.57,160.84L468.07,158.21A51.00,51.00 0 0 0 468.83,154.66Z" fill="#f2d448"/>
<path d="M468.12,157.99L478.64,160.58A61.83,61.83 0 0 1 477.43,164.82L467.13,161.49A51.00,51.00 0 0 0 468.12,157.99Z" fill="#60cc60"/>
<path d="M467.19,161.28L477.51,164.56A61.83,61.83 0 0 1 476.03,168.71L465.97,164.70A51.00,51.00 0 0 0 467.19,161.28Z" fill="#38be8a"/>
<path d="M466.05,164.49L476.13,168.46A61.83,61.83 0 0 1 474.37,172.50L464.60,167.82A51.00,51.00 0 0 0 466.05,164.49Z" fill="#3ea0c4"/>
<path d="M464.70,167.62L474.48,172.26A61.83,61.83 0 0 1 472.46,176.17L463.02,170.85A51.00,51.00 0 0 0 464.70,167.62Z" fill="#4a8ccd"/>
<path d="M463.13,170.65L472.59,175.93A61.83,61.83 0 0 1 470.31,179.70L461.25,173.76A51.00,51.00 0 0 0 463.13,170.65Z" fill="#3ea0c4"/>
<path d="M461.37,173.58L470.45,179.47A61.83,61.83 0 0 1 467.92,183.08L459.29,176.55A51.00,51.00 0 0 0 461.37,173.58Z" fill="#34b2a8"/>
<path d="M459.42,176.37L468.09,182.87A61.83,61.83 0 0 1 465.32,186.30L457.14,179.20A51.00,51.00 0 0 0 459.42,176.37Z" fill="#38be8a"/>
<path d="M457.28,179.03L465.50,186.09A61.83,61.83 0 0 1 462.51,189.33L454.82,181.70A51.00,51.00 0 0 0 457.28,179.03Z" fill="#46c670"/>
<path d="M454.98,181.55L462.70,189.14A61.83,61.83 0 0 1 459.50,192.17L452.34,184.05A51.00,51.00 0 0 0 454.98,181.55Z" fill="#46c670"/>
<path d="M452.50,183.90L459.70,191.99A61.83,61.83 0 0 1 456.31,194.80L449.71,186.22A51.00,51.00 0 0 0 452.50,183.90Z" fill="#38be8a"/>
<path d="M449.88,186.08L456.52,194.63A61.83,61.83 0 0 1 453.17,197.06L447.12,188.08A51.00,51.00 0 0 0 449.88,186.08Z" fill="#34b2a8"/>
<path d="M532.81,165.94A115.97,115.97 0 0 1 483.45,241.94M522.15,164.06A105.14,105.14 0 0 1 477.40,232.97M511.48,162.18A94.31,94.31 0 0 1 471.34,223.99M500.82,160.30A83.49,83.49 0 0 1 465.28,215.01M490.15,158.42A72.66,72.66 0 0 1 459.23,206.04M479.49,156.54A61.83,61.83 0 0 1 453.17,197.06M468.12,157.99L541.72,176.12M467.19,161.28L539.42,184.28M466.05,164.49L536.58,192.27M464.70,167.62L533.21,200.06M463.13,170.65L529.32,207.60M461.37,173.58L524.94,214.86M459.42,176.37L520.09,221.82M457.28,179.03L514.78,228.43M454.98,181.55L509.04,234.68M452.50,183.90L502.90,240.52M449.88,186.08L496.37,245.95" fill="none" stroke="#34457a" stroke-width="0.45" stroke-opacity="0.3"/>
<path d="M444.10,189.97L482.00,255.61A126.80,126.80 0 0 1 383.65,267.69L404.54,194.82A51.00,51.00 0 0 0 444.10,189.97Z" fill="#647ec8"/>
<path d="M476.44,245.97L482.00,255.61A126.80,126.80 0 0 1 474.02,259.85L469.16,249.84A115.67,115.67 0 0 0 476.44,245.97Z" fill="#34b2a8"/>
<path d="M469.61,249.62L474.52,259.60A126.80,126.80 0 0 1 466.27,263.30L462.09,252.99A115.67,115.67 0 0 0 469.61,249.62Z" fill="#4a8ccd"/>
<path d="M455.30,255.49L458.83,266.05A126.80,126.80 0 0 1 450.17,268.61L447.40,257.83A115.67,115.67 0 0 0 455.30,255.49Z" fill="#d9d9d9"/>
<path d="M447.89,257.70L450.71,268.47A126.80,126.80 0 0 1 441.89,270.44L439.84,259.50A115.67,115.67 0 0 0 447.89,257.70Z" fill="#d9d9d9"/>
<path d="M471.02,236.60L476.59,246.23A115.97,115.97 0 0 1 469.29,250.11L464.42,240.10A104.84,104.84 0 0 0 471.02,236.60Z" fill="#60cc60"/>
<path d="M464.83,239.90L469.74,249.89A115.97,115.97 0 0 1 462.20,253.26L458.02,242.95A104.84,104.84 0 0 0 464.83,239.90Z" fill="#3ea0c4"/>
<path d="M417.38,250.64L417.25,261.76A115.97,115.97 0 0 1 409.00,261.37L409.92,250.28A104.84,104.84 0 0 0 417.38,250.64Z" fill="#4a8ccd"/>
<path d="M410.37,250.32L409.50,261.41A115.97,115.97 0 0 1 401.29,260.47L402.95,249.47A104.84,104.84 0 0 0 410.37,250.32Z" fill="#3ea0c4"/>
<path d="M465.61,227.22L471.17,236.86A105.14,105.14 0 0 1 464.55,240.37L459.69,230.36A94.01,94.01 0 0 0 465.61,227.22Z" fill="#f2d448"/>
<path d="M460.06,230.18L464.97,240.17A105.14,105.14 0 0 1 458.13,243.23L453.95,232.92A94.01,94.01 0 0 0 460.06,230.18Z" fill="#34b2a8"/>
<path d="M417.51,239.81L417.38,250.94A105.14,105.14 0 0 1 409.89,250.58L410.81,239.49A94.01,94.01 0 0 0 417.51,239.81Z" fill="#3ea0c4"/>
<path d="M411.22,239.52L410.35,250.62A105.14,105.14 0 0 1 402.91,249.77L404.57,238.76A94.01,94.01 0 0 0 411.22,239.52Z" fill="#34b2a8"/>
<path d="M404.97,238.82L403.36,249.83A105.14,105.14 0 0 1 395.99,248.48L398.39,237.62A94.01,94.01 0 0 0 404.97,238.82Z" fill="#3ea0c4"/>
<path d="M398.79,237.70L396.44,248.58A105.14,105.14 0 0 1 389.62,246.87L392.69,236.17A94.01,94.01 0 0 0 398.79,237.70Z" fill="#3ea0c4"/>
<path d="M460.19,217.84L465.76,227.48A94.31,94.31 0 0 1 459.82,230.63L454.96,220.62A83.19,83.19 0 0 0 460.19,217.84Z" fill="#f37050"/>
<path d="M455.28,220.46L460.19,230.45A94.31,94.31 0 0 1 454.06,233.20L449.87,222.88A83.19,83.19 0 0 0 455.28,220.46Z" fill="#46c670"/>
<path d="M428.74,228.37L430.09,239.41A94.31,94.31 0 0 1 423.40,239.99L422.83,228.88A83.19,83.19 0 0 0 428.74,228.37Z" fill="#4a8ccd"/>
<path d="M423.20,228.86L423.81,239.97A94.31,94.31 0 0 1 417.09,240.10L417.27,228.98A83.19,83.19 0 0 0 423.20,228.86Z" fill="#4594c9"/>
<path d="M417.63,228.98L417.50,240.11A94.31,94.31 0 0 1 410.79,239.79L411.71,228.70A83.19,83.19 0 0 0 417.63,228.98Z" fill="#34b2a8"/>
<path d="M412.07,228.73L411.20,239.82A94.31,94.31 0 0 1 404.52,239.06L406.18,228.05A83.19,83.19 0 0 0 412.07,228.73Z" fill="#82d256"/>
<path d="M406.54,228.11L404.93,239.12A94.31,94.31 0 0 1 398.32,237.91L400.71,227.04A83.19,83.19 0 0 0 406.54,228.11Z" fill="#3ea0c4"/>
<path d="M401.07,227.12L398.72,238.00A94.31,94.31 0 0 1 392.60,236.46L395.67,225.76A83.19,83.19 0 0 0 401.07,227.12Z" fill="#60cc60"/>
<path d="M454.78,208.46L460.34,218.10A83.49,83.49 0 0 1 455.09,220.89L450.22,210.88A72.36,72.36 0 0 0 454.78,208.46Z" fill="#f06454"/>
<path d="M450.51,210.74L455.42,220.73A83.49,83.49 0 0 1 449.99,223.16L445.80,212.85A72.36,72.36 0 0 0 450.51,210.74Z" fill="#60cc60"/>
<path d="M432.20,216.87L434.29,227.80A83.49,83.49 0 0 1 428.41,228.71L427.10,217.66A72.36,72.36 0 0 0 432.20,216.87Z" fill="#5785ca"/>
<path d="M427.42,217.62L428.77,228.66A83.49,83.49 0 0 1 422.85,229.18L422.28,218.06A72.36,72.36 0 0 0 427.42,217.62Z" fill="#4a8ccd"/>
<path d="M422.60,218.05L423.21,229.16A83.49,83.49 0 0 1 417.26,229.28L417.44,218.15A72.36,72.36 0 0 0 422.60,218.05Z" fill="#3ea0c4"/>
<path d="M417.76,218.15L417.63,229.28A83.49,83.49 0 0 1 411.69,229.00L412.61,217.91A72.36,72.36 0 0 0 417.76,218.15Z" fill="#34b2a8"/>
<path d="M412.92,217.93L412.05,229.03A83.49,83.49 0 0 1 406.14,228.35L407.80,217.35A72.36,72.36 0 0 0 412.92,217.93Z" fill="#60cc60"/>
<path d="M408.11,217.39L406.50,228.40A83.49,83.49 0 0 1 400.65,227.33L403.04,216.46A72.36,72.36 0 0 0 408.11,217.39Z" fill="#34b2a8"/>
<path d="M403.35,216.53L401.00,227.41A83.49,83.49 0 0 1 395.59,226.05L398.66,215.35A72.36,72.36 0 0 0 403.35,216.53Z" fill="#46c670"/>
<path d="M449.36,199.09L454.93,208.72A72.66,72.66 0 0 1 450.36,211.15L445.49,201.14A61.53,61.53 0 0 0 449.36,199.09Z" fill="#f6aa47"/>
<path d="M445.73,201.02L450.64,211.01A72.66,72.66 0 0 1 445.92,213.13L441.73,202.81A61.53,61.53 0 0 0 445.73,201.02Z" fill="#46c670"/>
<path d="M430.16,206.23L432.26,217.16A72.66,72.66 0 0 1 427.14,217.95L425.83,206.90A61.53,61.53 0 0 0 430.16,206.23Z" fill="#4f89cc"/>
<path d="M426.10,206.87L427.45,217.92A72.66,72.66 0 0 1 422.30,218.36L421.73,207.25A61.53,61.53 0 0 0 426.10,206.87Z" fill="#4594c9"/>
<path d="M422.00,207.23L422.61,218.35A72.66,72.66 0 0 1 417.44,218.45L417.62,207.32A61.53,61.53 0 0 0 422.00,207.23Z" fill="#3ea0c4"/>
<path d="M417.88,207.32L417.75,218.45A72.66,72.66 0 0 1 412.58,218.21L413.50,207.12A61.53,61.53 0 0 0 417.88,207.32Z" fill="#34b2a8"/>
<path d="M413.77,207.14L412.90,218.23A72.66,72.66 0 0 1 407.76,217.64L409.42,206.64A61.53,61.53 0 0 0 413.77,207.14Z" fill="#46c670"/>
<path d="M409.68,206.68L408.07,217.69A72.66,72.66 0 0 1 402.98,216.76L405.37,205.89A61.53,61.53 0 0 0 409.68,206.68Z" fill="#38be8a"/>
<path d="M405.63,205.95L403.29,216.83A72.66,72.66 0 0 1 398.57,215.64L401.64,204.95A61.53,61.53 0 0 0 405.63,205.95Z" fill="#34b2a8"/>
<path d="M444.10,189.97L449.51,199.35A61.83,61.83 0 0 1 445.62,201.41L440.89,191.67A51.00,51.00 0 0 0 444.10,189.97Z" fill="#82d256"/>
<path d="M441.09,191.57L445.87,201.29A61.83,61.83 0 0 1 441.84,203.09L437.77,193.06A51.00,51.00 0 0 0 441.09,191.57Z" fill="#3ea0c4"/>
<path d="M431.51,195.14L434.25,205.61A61.83,61.83 0 0 1 429.96,206.58L427.97,195.93A51.00,51.00 0 0 0 431.51,195.14Z" fill="#5785ca"/>
<path d="M428.19,195.89L430.22,206.53A61.83,61.83 0 0 1 425.87,207.20L424.59,196.45A51.00,51.00 0 0 0 428.19,195.89Z" fill="#4a8ccd"/>
<path d="M424.82,196.42L426.14,207.17A61.83,61.83 0 0 1 421.75,207.55L421.20,196.73A51.00,51.00 0 0 0 424.82,196.42Z" fill="#4a8ccd"/>
<path d="M421.42,196.72L422.02,207.53A61.83,61.83 0 0 1 417.61,207.62L417.78,196.79A51.00,51.00 0 0 0 421.42,196.72Z" fill="#4594c9"/>
<path d="M418.01,196.80L417.88,207.62A61.83,61.83 0 0 1 413.48,207.42L414.38,196.62A51.00,51.00 0 0 0 418.01,196.80Z" fill="#4594c9"/>
<path d="M414.60,196.64L413.75,207.44A61.83,61.83 0 0 1 409.37,206.94L410.99,196.23A51.00,51.00 0 0 0 414.60,196.64Z" fill="#3ea0c4"/>
<path d="M411.21,196.26L409.64,206.98A61.83,61.83 0 0 1 405.31,206.18L407.63,195.61A51.00,51.00 0 0 0 411.21,196.26Z" fill="#34b2a8"/>
<path d="M407.85,195.65L405.57,206.24A61.83,61.83 0 0 1 401.56,205.23L404.54,194.82A51.00,51.00 0 0 0 407.85,195.65Z" fill="#3ea0c4"/>
<path d="M476.59,246.23A115.97,115.97 0 0 1 386.63,257.28M471.17,236.86A105.14,105.14 0 0 1 389.62,246.87M465.76,227.48A94.31,94.31 0 0 1 392.60,236.46M460.34,218.10A83.49,83.49 0 0 1 395.59,226.05M454.93,208.72A72.66,72.66 0 0 1 398.57,215.64M449.51,199.35A61.83,61.83 0 0 1 401.56,205.23M441.09,191.57L474.52,259.60M437.98,192.97L466.78,263.09M434.78,194.16L458.83,266.05M431.51,195.14L450.71,268.47M428.19,195.89L442.43,270.34M424.82,196.42L434.05,271.65M421.42,196.72L425.60,272.41M418.01,196.80L417.12,272.59M414.60,196.64L408.65,272.21M411.21,196.26L400.22,271.26M407.85,195.65L391.88,269.75" fill="none" stroke="#34457a" stroke-width="0.45" stroke-opacity="0.3"/>
<path d="M401.16,193.72L375.23,264.95A126.80,126.80 0 0 1 302.76,197.37L372.01,166.54A51.00,51.00 0 0 0 401.16,193.72Z" fill="#647ec8"/>
<path d="M382.74,244.32L378.94,254.78A115.97,115.97 0 0 1 371.28,251.68L375.82,241.52A104.84,104.84 0 0 0 382.74,244.32Z" fill="#4a8ccd"/>
<path d="M376.24,241.70L371.74,251.88A115.97,115.97 0 0 1 364.30,248.28L369.51,238.44A104.84,104.84 0 0 0 376.24,241.70Z" fill="#4a8ccd"/>
<path d="M386.45,234.14L382.64,244.60A105.14,105.14 0 0 1 375.69,241.79L380.24,231.63A94.01,94.01 0 0 0 386.45,234.14Z" fill="#34b2a8"/>
<path d="M380.61,231.80L376.11,241.98A105.14,105.14 0 0 1 369.37,238.71L374.58,228.87A94.01,94.01 0 0 0 380.61,231.80Z" fill="#3ea0c4"/>
<path d="M390.15,223.97L386.34,234.43A94.31,94.31 0 0 1 380.11,231.90L384.65,221.74A83.19,83.19 0 0 0 390.15,223.97Z" fill="#60cc60"/>
<path d="M384.99,221.89L380.49,232.07A94.31,94.31 0 0 1 374.44,229.14L379.65,219.31A83.19,83.19 0 0 0 384.99,221.89Z" fill="#34b2a8"/>
<path d="M379.97,219.47L374.81,229.33A94.31,94.31 0 0 1 368.97,226.00L374.83,216.54A83.19,83.19 0 0 0 379.97,219.47Z" fill="#3ea0c4"/>
<path d="M370.49,213.66L364.05,222.74A94.31,94.31 0 0 1 358.71,218.66L365.78,210.07A83.19,83.19 0 0 0 370.49,213.66Z" fill="#4a8ccd"/>
<path d="M366.06,210.29L359.03,218.92A94.31,94.31 0 0 1 353.98,214.50L361.60,206.39A83.19,83.19 0 0 0 366.06,210.29Z" fill="#4a8ccd"/>
<path d="M361.87,206.64L354.28,214.78A94.31,94.31 0 0 1 349.53,210.02L357.68,202.44A83.19,83.19 0 0 0 361.87,206.64Z" fill="#4a8ccd"/>
<path d="M350.88,194.11L341.82,200.57A94.31,94.31 0 0 1 338.11,194.96L347.61,189.16A83.19,83.19 0 0 0 350.88,194.11Z" fill="#34b2a8"/>
<path d="M347.80,189.47L338.33,195.31A94.31,94.31 0 0 1 335.01,189.47L344.87,184.32A83.19,83.19 0 0 0 347.80,189.47Z" fill="#34b2a8"/>
<path d="M345.04,184.64L335.20,189.84A94.31,94.31 0 0 1 332.44,184.16L342.61,179.63A83.19,83.19 0 0 0 345.04,184.64Z" fill="#3ea0c4"/>
<path d="M393.85,213.79L390.05,224.25A83.49,83.49 0 0 1 384.53,222.02L389.07,211.86A72.36,72.36 0 0 0 393.85,213.79Z" fill="#f6aa47"/>
<path d="M389.36,211.99L384.87,222.17A83.49,83.49 0 0 1 379.51,219.57L384.72,209.74A72.36,72.36 0 0 0 389.36,211.99Z" fill="#60cc60"/>
<path d="M385.00,209.88L379.84,219.74A83.49,83.49 0 0 1 374.67,216.79L380.52,207.33A72.36,72.36 0 0 0 385.00,209.88Z" fill="#34b2a8"/>
<path d="M380.79,207.49L374.98,216.98A83.49,83.49 0 0 1 370.02,213.70L376.50,204.65A72.36,72.36 0 0 0 380.79,207.49Z" fill="#4594c9"/>
<path d="M376.75,204.83L370.32,213.91A83.49,83.49 0 0 1 365.59,210.30L372.66,201.70A72.36,72.36 0 0 0 376.75,204.83Z" fill="#4594c9"/>
<path d="M372.90,201.90L365.87,210.53A83.49,83.49 0 0 1 361.40,206.61L369.02,198.50A72.36,72.36 0 0 0 372.90,201.90Z" fill="#3ea0c4"/>
<path d="M369.25,198.72L361.66,206.86A83.49,83.49 0 0 1 357.46,202.65L365.61,195.07A72.36,72.36 0 0 0 369.25,198.72Z" fill="#3ea0c4"/>
<path d="M365.83,195.30L357.71,202.91A83.49,83.49 0 0 1 353.80,198.43L362.43,191.42A72.36,72.36 0 0 0 365.83,195.30Z" fill="#38be8a"/>
<path d="M362.63,191.66L354.03,198.72A83.49,83.49 0 0 1 350.42,193.98L359.51,187.56A72.36,72.36 0 0 0 362.63,191.66Z" fill="#46c670"/>
<path d="M359.69,187.82L350.63,194.28A83.49,83.49 0 0 1 347.35,189.32L356.85,183.52A72.36,72.36 0 0 0 359.69,187.82Z" fill="#38be8a"/>
<path d="M357.02,183.79L347.54,189.63A83.49,83.49 0 0 1 344.60,184.46L354.47,179.30A72.36,72.36 0 0 0 357.02,183.79Z" fill="#46c670"/>
<path d="M354.61,179.58L344.77,184.78A83.49,83.49 0 0 1 342.33,179.76L352.50,175.23A72.36,72.36 0 0 0 354.61,179.58Z" fill="#38be8a"/>
<path d="M397.56,203.62L393.75,214.08A72.66,72.66 0 0 1 388.95,212.13L393.49,201.97A61.53,61.53 0 0 0 397.56,203.62Z" fill="#f06454"/>
<path d="M393.74,202.08L389.24,212.26A72.66,72.66 0 0 1 384.58,210.00L389.79,200.17A61.53,61.53 0 0 0 393.74,202.08Z" fill="#46c670"/>
<path d="M390.03,200.29L384.86,210.15A72.66,72.66 0 0 1 380.37,207.58L386.22,198.12A61.53,61.53 0 0 0 390.03,200.29Z" fill="#34b2a8"/>
<path d="M386.45,198.26L380.64,207.75A72.66,72.66 0 0 1 376.32,204.89L382.80,195.84A61.53,61.53 0 0 0 386.45,198.26Z" fill="#3ea0c4"/>
<path d="M383.02,196.00L376.58,205.07A72.66,72.66 0 0 1 372.47,201.93L379.53,193.33A61.53,61.53 0 0 0 383.02,196.00Z" fill="#3ea0c4"/>
<path d="M379.74,193.50L372.71,202.13A72.66,72.66 0 0 1 368.82,198.72L376.44,190.62A61.53,61.53 0 0 0 379.74,193.50Z" fill="#3ea0c4"/>
<path d="M376.64,190.80L369.05,198.94A72.66,72.66 0 0 1 365.39,195.27L373.54,187.70A61.53,61.53 0 0 0 376.64,190.80Z" fill="#34b2a8"/>
<path d="M373.72,187.89L365.61,195.51A72.66,72.66 0 0 1 362.20,191.61L370.84,184.59A61.53,61.53 0 0 0 373.72,187.89Z" fill="#82d256"/>
<path d="M371.01,184.80L362.40,191.85A72.66,72.66 0 0 1 359.27,187.73L368.35,181.31A61.53,61.53 0 0 0 371.01,184.80Z" fill="#e6de48"/>
<path d="M368.51,181.53L359.45,187.99A72.66,72.66 0 0 1 356.59,183.67L366.09,177.87A61.53,61.53 0 0 0 368.51,181.53Z" fill="#f2d448"/>
<path d="M366.23,178.10L356.76,183.94A72.66,72.66 0 0 1 354.20,179.44L364.06,174.29A61.53,61.53 0 0 0 366.23,178.10Z" fill="#60cc60"/>
<path d="M364.19,174.53L354.35,179.72A72.66,72.66 0 0 1 352.22,175.35L362.39,170.83A61.53,61.53 0 0 0 364.19,174.53Z" fill="#46c670"/>
<path d="M401.16,193.72L397.45,203.90A61.83,61.83 0 0 1 393.37,202.25L397.79,192.36A51.00,51.00 0 0 0 401.16,193.72Z" fill="#f2d448"/>
<path d="M397.99,192.45L393.62,202.36A61.83,61.83 0 0 1 389.65,200.43L394.72,190.87A51.00,51.00 0 0 0 397.99,192.45Z" fill="#46c670"/>
<path d="M394.92,190.97L389.89,200.56A61.83,61.83 0 0 1 386.06,198.38L391.76,189.17A51.00,51.00 0 0 0 394.92,190.97Z" fill="#34b2a8"/>
<path d="M391.95,189.28L386.29,198.52A61.83,61.83 0 0 1 382.62,196.08L388.92,187.28A51.00,51.00 0 0 0 391.95,189.28Z" fill="#3ea0c4"/>
<path d="M389.11,187.41L382.84,196.24A61.83,61.83 0 0 1 379.34,193.57L386.22,185.20A51.00,51.00 0 0 0 389.11,187.41Z" fill="#3ea0c4"/>
<path d="M386.39,185.34L379.55,193.74A61.83,61.83 0 0 1 376.24,190.83L383.66,182.95A51.00,51.00 0 0 0 386.39,185.34Z" fill="#34b2a8"/>
<path d="M383.82,183.10L376.43,191.02A61.83,61.83 0 0 1 373.32,187.90L381.25,180.53A51.00,51.00 0 0 0 383.82,183.10Z" fill="#34b2a8"/>
<path d="M381.40,180.69L373.50,188.10A61.83,61.83 0 0 1 370.61,184.78L379.01,177.95A51.00,51.00 0 0 0 381.40,180.69Z" fill="#46c670"/>
<path d="M379.15,178.13L370.78,184.99A61.83,61.83 0 0 1 368.11,181.48L376.95,175.23A51.00,51.00 0 0 0 379.15,178.13Z" fill="#60cc60"/>
<path d="M377.08,175.42L368.26,181.70A61.83,61.83 0 0 1 365.84,178.03L375.08,172.38A51.00,51.00 0 0 0 377.08,175.42Z" fill="#60cc60"/>
<path d="M375.19,172.57L365.98,178.26A61.83,61.83 0 0 1 363.80,174.43L373.40,169.41A51.00,51.00 0 0 0 375.19,172.57Z" fill="#46c670"/>
<path d="M373.50,169.61L363.92,174.67A61.83,61.83 0 0 1 362.12,170.95L372.01,166.54A51.00,51.00 0 0 0 373.50,169.61Z" fill="#38be8a"/>
<path d="M378.94,254.78A115.97,115.97 0 0 1 312.65,192.97M382.64,244.60A105.14,105.14 0 0 1 322.55,188.57M386.34,234.43A94.31,94.31 0 0 1 332.44,184.16M390.05,224.25A83.49,83.49 0 0 1 342.33,179.76M393.75,214.08A72.66,72.66 0 0 1 352.22,175.35M397.45,203.90A61.83,61.83 0 0 1 362.12,170.95M397.99,192.45L367.36,261.79M394.92,190.97L359.72,258.10M391.95,189.28L352.35,253.91M389.11,187.41L345.27,249.24M386.39,185.34L338.52,244.11M383.82,183.10L332.12,238.54M381.40,180.69L326.12,232.55M379.15,178.13L320.52,226.17M377.08,175.42L315.37,219.43M375.19,172.57L310.68,212.37M373.50,169.61L306.47,205.00" fill="none" stroke="#34457a" stroke-width="0.45" stroke-opacity="0.3"/>
<path d="M370.68,163.24L299.45,189.17A126.80,126.80 0 0 1 308.79,82.40L374.43,120.30A51.00,51.00 0 0 0 370.68,163.24Z" fill="#647ec8"/>
<path d="M309.90,185.36L299.45,189.17A126.80,126.80 0 0 1 296.46,179.86L307.18,176.87A115.67,115.67 0 0 0 309.90,185.36Z" fill="#d9d9d9"/>
<path d="M307.32,177.36L296.61,180.40A126.80,126.80 0 0 1 294.31,170.90L305.22,168.70A115.67,115.67 0 0 0 307.32,177.36Z" fill="#d9d9d9"/>
<path d="M305.32,169.19L294.42,171.44A126.80,126.80 0 0 1 292.81,161.80L303.85,160.40A115.67,115.67 0 0 0 305.32,169.19Z" fill="#d9d9d9"/>
<path d="M303.92,160.90L292.88,162.35A126.80,126.80 0 0 1 291.98,152.62L303.10,152.02A115.67,115.67 0 0 0 303.92,160.90Z" fill="#d9d9d9"/>
<path d="M303.12,152.53L292.01,153.17A126.80,126.80 0 0 1 291.82,143.40L302.95,143.61A115.67,115.67 0 0 0 303.12,152.53Z" fill="#d9d9d9"/>
<path d="M302.94,144.12L291.81,143.96A126.80,126.80 0 0 1 292.33,134.20L303.41,135.22A115.67,115.67 0 0 0 302.94,144.12Z" fill="#d9d9d9"/>
<path d="M303.37,135.72L292.28,134.75A126.80,126.80 0 0 1 293.51,125.05L304.49,126.87A115.67,115.67 0 0 0 303.37,135.72Z" fill="#d9d9d9"/>
<path d="M304.41,127.37L293.42,125.60A126.80,126.80 0 0 1 295.35,116.02L306.16,118.63A115.67,115.67 0 0 0 304.41,127.37Z" fill="#d9d9d9"/>
<path d="M306.05,119.12L295.22,116.56A126.80,126.80 0 0 1 297.84,107.14L308.44,110.54A115.67,115.67 0 0 0 306.05,119.12Z" fill="#d9d9d9"/>
<path d="M308.28,111.02L297.67,107.67A126.80,126.80 0 0 1 300.96,98.47L311.29,102.62A115.67,115.67 0 0 0 308.28,111.02Z" fill="#d9d9d9"/>
<path d="M311.10,103.09L300.76,98.98A126.80,126.80 0 0 1 304.71,90.05L314.71,94.94A115.67,115.67 0 0 0 311.10,103.09Z" fill="#d9d9d9"/>
<path d="M314.49,95.40L304.47,90.55A126.80,126.80 0 0 1 308.79,82.40L318.43,87.96A115.67,115.67 0 0 0 314.49,95.40Z" fill="#d9d9d9"/>
<path d="M320.08,181.66L309.62,185.46A115.97,115.97 0 0 1 306.89,176.95L317.61,173.96A104.84,104.84 0 0 0 320.08,181.66Z" fill="#d9d9d9"/>
<path d="M317.73,174.41L307.03,177.44A115.97,115.97 0 0 1 304.92,168.76L315.83,166.55A104.84,104.84 0 0 0 317.73,174.41Z" fill="#d9d9d9"/>
<path d="M313.93,151.90L302.82,152.54A115.97,115.97 0 0 1 302.65,143.61L313.78,143.82A104.84,104.84 0 0 0 313.93,151.90Z" fill="#d9d9d9"/>
<path d="M313.77,144.28L302.64,144.11A115.97,115.97 0 0 1 303.12,135.19L314.20,136.21A104.84,104.84 0 0 0 313.77,144.28Z" fill="#d9d9d9"/>
<path d="M315.10,129.10L304.11,127.32A115.97,115.97 0 0 1 305.87,118.56L316.69,121.18A104.84,104.84 0 0 0 315.10,129.10Z" fill="#d9d9d9"/>
<path d="M316.58,121.62L305.75,119.06A115.97,115.97 0 0 1 308.15,110.44L318.75,113.84A104.84,104.84 0 0 0 316.58,121.62Z" fill="#d9d9d9"/>
<path d="M318.61,114.27L308.00,110.93A115.97,115.97 0 0 1 311.01,102.51L321.33,106.67A104.84,104.84 0 0 0 318.61,114.27Z" fill="#d9d9d9"/>
<path d="M321.16,107.09L310.82,102.98A115.97,115.97 0 0 1 314.44,94.81L324.43,99.70A104.84,104.84 0 0 0 321.16,107.09Z" fill="#d9d9d9"/>
<path d="M324.23,100.11L314.22,95.26A115.97,115.97 0 0 1 318.17,87.81L327.80,93.38A104.84,104.84 0 0 0 324.23,100.11Z" fill="#d9d9d9"/>
<path d="M330.26,177.95L319.80,181.76A105.14,105.14 0 0 1 317.32,174.05L328.04,171.06A94.01,94.01 0 0 0 330.26,177.95Z" fill="#d9d9d9"/>
<path d="M324.60,144.43L313.47,144.27A105.14,105.14 0 0 1 313.90,136.18L324.98,137.20A94.01,94.01 0 0 0 324.60,144.43Z" fill="#d9d9d9"/>
<path d="M331.23,111.09L320.89,106.98A105.14,105.14 0 0 1 324.17,99.57L334.16,104.46A94.01,94.01 0 0 0 331.23,111.09Z" fill="#d9d9d9"/>
<path d="M333.98,104.83L323.96,99.98A105.14,105.14 0 0 1 327.54,93.23L337.18,98.79A94.01,94.01 0 0 0 333.98,104.83Z" fill="#d9d9d9"/>
<path d="M350.61,170.55L340.15,174.35A83.49,83.49 0 0 1 338.18,168.23L348.90,165.24A72.36,72.36 0 0 0 350.61,170.55Z" fill="#3ea0c4"/>
<path d="M347.17,134.27L336.18,132.50A83.49,83.49 0 0 1 337.45,126.19L348.27,128.81A72.36,72.36 0 0 0 347.17,134.27Z" fill="#4594c9"/>
<path d="M348.19,129.11L337.36,126.55A83.49,83.49 0 0 1 339.09,120.35L349.69,123.74A72.36,72.36 0 0 0 348.19,129.11Z" fill="#3ea0c4"/>
<path d="M349.59,124.04L338.98,120.70A83.49,83.49 0 0 1 341.15,114.64L351.47,118.79A72.36,72.36 0 0 0 349.59,124.04Z" fill="#3ea0c4"/>
<path d="M351.36,119.09L341.01,114.98A83.49,83.49 0 0 1 343.62,109.09L353.61,113.99A72.36,72.36 0 0 0 351.36,119.09Z" fill="#5c82ca"/>
<path d="M360.78,166.84L350.32,170.65A72.66,72.66 0 0 1 348.61,165.32L359.33,162.33A61.53,61.53 0 0 0 360.78,166.84Z" fill="#82d256"/>
<path d="M359.41,162.59L348.70,165.62A72.66,72.66 0 0 1 347.38,160.18L358.29,157.98A61.53,61.53 0 0 0 359.41,162.59Z" fill="#4a8ccd"/>
<path d="M357.86,136.00L346.87,134.23A72.66,72.66 0 0 1 347.98,128.74L358.79,131.35A61.53,61.53 0 0 0 357.86,136.00Z" fill="#34b2a8"/>
<path d="M358.73,131.61L347.90,129.04A72.66,72.66 0 0 1 349.40,123.65L360.00,127.04A61.53,61.53 0 0 0 358.73,131.61Z" fill="#a5d74e"/>
<path d="M359.92,127.30L349.31,123.95A72.66,72.66 0 0 1 351.19,118.68L361.52,122.83A61.53,61.53 0 0 0 359.92,127.30Z" fill="#46c670"/>
<path d="M361.42,123.08L351.08,118.97A72.66,72.66 0 0 1 353.34,113.85L363.34,118.75A61.53,61.53 0 0 0 361.42,123.08Z" fill="#46c670"/>
<path d="M363.22,118.99L353.20,114.14A72.66,72.66 0 0 1 355.68,109.47L365.31,115.04A61.53,61.53 0 0 0 363.22,118.99Z" fill="#a5d74e"/>
<path d="M370.68,163.24L360.50,166.95A61.83,61.83 0 0 1 359.04,162.41L369.47,159.50A51.00,51.00 0 0 0 370.68,163.24Z" fill="#f06454"/>
<path d="M369.53,159.71L359.12,162.67A61.83,61.83 0 0 1 357.99,158.04L368.61,155.90A51.00,51.00 0 0 0 369.53,159.71Z" fill="#4a8ccd"/>
<path d="M368.25,137.68L357.56,135.95A61.83,61.83 0 0 1 358.50,131.28L369.03,133.82A51.00,51.00 0 0 0 368.25,137.68Z" fill="#a5d74e"/>
<path d="M368.97,134.04L358.44,131.54A61.83,61.83 0 0 1 359.71,126.95L370.03,130.25A51.00,51.00 0 0 0 368.97,134.04Z" fill="#f6aa47"/>
<path d="M369.96,130.46L359.63,127.21A61.83,61.83 0 0 1 361.24,122.72L371.29,126.76A51.00,51.00 0 0 0 369.96,130.46Z" fill="#34b2a8"/>
<path d="M371.20,126.97L361.14,122.97A61.83,61.83 0 0 1 363.07,118.62L372.79,123.38A51.00,51.00 0 0 0 371.20,126.97Z" fill="#34b2a8"/>
<path d="M372.70,123.58L362.95,118.86A61.83,61.83 0 0 1 365.05,114.89L374.43,120.30A51.00,51.00 0 0 0 372.70,123.58Z" fill="#f2d448"/>
<path d="M309.62,185.46A115.97,115.97 0 0 1 318.17,87.81M319.80,181.76A105.14,105.14 0 0 1 327.54,93.23M329.97,178.06A94.31,94.31 0 0 1 336.92,98.64M340.15,174.35A83.49,83.49 0 0 1 346.30,104.06M350.32,170.65A72.66,72.66 0 0 1 355.68,109.47M360.50,166.95A61.83,61.83 0 0 1 365.05,114.89M369.53,159.71L296.61,180.40M368.65,156.11L294.42,171.44M368.04,152.46L292.88,162.35M367.69,148.77L292.01,153.17M367.61,145.06L291.81,143.96M367.79,141.36L292.28,134.75M368.25,137.68L293.42,125.60M368.97,134.04L295.22,116.56M369.96,130.46L297.67,107.67M371.20,126.97L300.76,98.98M372.70,123.58L304.47,90.55" fill="none" stroke="#34457a" stroke-width="0.45" stroke-opacity="0.3"/>
</g>
<text x="414.6" y="20.80" text-anchor="end" class="yl">0.50</text>
<line x1="415.9" y1="19.00" x2="418.40" y2="19.00" stroke="#888" stroke-width="0.5"/>
<text x="414.6" y="31.63" text-anchor="end" class="yl">0.30</text>
<line x1="415.9" y1="29.83" x2="418.40" y2="29.83" stroke="#888" stroke-width="0.5"/>
<text x="414.6" y="42.46" text-anchor="end" class="yl">0.25</text>
<line x1="415.9" y1="40.66" x2="418.40" y2="40.66" stroke="#888" stroke-width="0.5"/>
<text x="414.6" y="53.29" text-anchor="end" class="yl">0.20</text>
<line x1="415.9" y1="51.49" x2="418.40" y2="51.49" stroke="#888" stroke-width="0.5"/>
<text x="414.6" y="64.11" text-anchor="end" class="yl">0.15</text>
<line x1="415.9" y1="62.31" x2="418.40" y2="62.31" stroke="#888" stroke-width="0.5"/>
<text x="414.6" y="74.94" text-anchor="end" class="yl">0.10</text>
<line x1="415.9" y1="73.14" x2="418.40" y2="73.14" stroke="#888" stroke-width="0.5"/>
<text x="414.6" y="85.77" text-anchor="end" class="yl">0.05</text>
<line x1="415.9" y1="83.97" x2="418.40" y2="83.97" stroke="#888" stroke-width="0.5"/>
<text x="414.6" y="96.60" text-anchor="end" class="yl">0.00</text>
<line x1="415.9" y1="94.80" x2="418.40" y2="94.80" stroke="#888" stroke-width="0.5"/>
<text x="389.2" y="58.6" class="rl">R<tspan font-size="4.2px" dy="0.2">acc</tspan></text>
<line x1="422.84" y1="19.07" x2="422.89" y2="17.47" stroke="#777" stroke-width="0.5"/>
<text x="422.95" y="15.77" transform="rotate(1.92 422.95 15.77)" text-anchor="middle" class="ml">1</text>
<line x1="431.30" y1="19.64" x2="431.46" y2="18.05" stroke="#777" stroke-width="0.5"/>
<text x="431.63" y="16.35" transform="rotate(5.75 431.63 16.35)" text-anchor="middle" class="ml">2</text>
<line x1="439.71" y1="20.77" x2="439.98" y2="19.19" stroke="#777" stroke-width="0.5"/>
<text x="440.26" y="17.52" transform="rotate(9.58 440.26 17.52)" text-anchor="middle" class="ml">3</text>
<line x1="448.02" y1="22.46" x2="448.39" y2="20.90" stroke="#777" stroke-width="0.5"/>
<text x="448.79" y="19.25" transform="rotate(13.42 448.79 19.25)" text-anchor="middle" class="ml">4</text>
<line x1="456.20" y1="24.70" x2="456.68" y2="23.18" stroke="#777" stroke-width="0.5"/>
<text x="457.18" y="21.55" transform="rotate(17.25 457.18 21.55)" text-anchor="middle" class="ml">5</text>
<line x1="464.21" y1="27.49" x2="464.79" y2="26.00" stroke="#777" stroke-width="0.5"/>
<text x="465.40" y="24.41" transform="rotate(21.08 465.40 24.41)" text-anchor="middle" class="ml">6</text>
<line x1="472.02" y1="30.80" x2="472.69" y2="29.35" stroke="#777" stroke-width="0.5"/>
<text x="473.41" y="27.81" transform="rotate(24.92 473.41 27.81)" text-anchor="middle" class="ml">7</text>
<line x1="479.59" y1="34.63" x2="480.36" y2="33.23" stroke="#777" stroke-width="0.5"/>
<text x="481.18" y="31.74" transform="rotate(28.75 481.18 31.74)" text-anchor="middle" class="ml">8</text>
<line x1="486.89" y1="38.96" x2="487.75" y2="37.61" stroke="#777" stroke-width="0.5"/>
<text x="488.66" y="36.18" transform="rotate(32.58 488.66 36.18)" text-anchor="middle" class="ml">9</text>
<line x1="493.88" y1="43.76" x2="494.83" y2="42.47" stroke="#777" stroke-width="0.5"/>
<text x="495.83" y="41.11" transform="rotate(36.42 495.83 41.11)" text-anchor="middle" class="ml">10</text>
<line x1="500.53" y1="49.02" x2="501.56" y2="47.80" stroke="#777" stroke-width="0.5"/>
<text x="502.66" y="46.50" transform="rotate(40.25 502.66 46.50)" text-anchor="middle" class="ml">11</text>
<line x1="506.82" y1="54.72" x2="507.93" y2="53.57" stroke="#777" stroke-width="0.5"/>
<text x="509.11" y="52.35" transform="rotate(44.08 509.11 52.35)" text-anchor="middle" class="ml">12</text>
<text x="457.6" y="12.8" transform="rotate(24 457.6 12.8)" class="tl"><tspan font-style="italic">T</tspan><tspan font-size="4.7px" dy="0.8">acc,month</tspan></text>
<text x="434.48" y="104.44" transform="rotate(21.00 434.48 104.44)" text-anchor="middle" dy="2.2" class="sl">CHF</text>
<text x="460.96" y="132.85" transform="rotate(73.00 460.96 132.85)" text-anchor="middle" dy="2.2" class="sl">EBF</text>
<text x="455.75" y="169.93" transform="rotate(-57.00 455.75 169.93)" text-anchor="middle" dy="2.2" class="sl">ENF</text>
<text x="424.00" y="189.77" transform="rotate(-7.00 424.00 189.77)" text-anchor="middle" dy="2.2" class="sl">MF</text>
<text x="388.39" y="178.20" transform="rotate(43.00 388.39 178.20)" text-anchor="middle" dy="2.2" class="sl">DBF</text>
<text x="374.47" y="141.94" transform="rotate(95.00 374.47 141.94)" text-anchor="middle" dy="2.2" class="sl">DNF</text>
<defs><linearGradient id="cb" x1="0" x2="1" y1="0" y2="0"><stop offset="0.0" stop-color="rgb(82, 106, 196)"/><stop offset="0.06" stop-color="rgb(70, 130, 200)"/><stop offset="0.13" stop-color="rgb(50, 170, 170)"/><stop offset="0.2" stop-color="rgb(55, 190, 120)"/><stop offset="0.3" stop-color="rgb(110, 205, 85)"/><stop offset="0.4" stop-color="rgb(180, 220, 75)"/><stop offset="0.49" stop-color="rgb(230, 228, 75)"/><stop offset="0.58" stop-color="rgb(245, 205, 72)"/><stop offset="0.7" stop-color="rgb(247, 170, 70)"/><stop offset="0.85" stop-color="rgb(246, 125, 72)"/><stop offset="1.0" stop-color="rgb(240, 85, 68)"/></linearGradient></defs>
<text x="418.5" y="138.7" text-anchor="middle" class="cbt">area ratio%</text>
<rect x="384.9" y="143.0" width="65.3" height="6.9" fill="url(#cb)"/>
<line x1="385.10" y1="149.9" x2="385.10" y2="151.0" stroke="#888" stroke-width="0.4"/>
<text x="385.10" y="156.5" text-anchor="middle" class="cbl">&gt;0</text>
<line x1="396.70" y1="149.9" x2="396.70" y2="151.0" stroke="#888" stroke-width="0.4"/>
<text x="396.70" y="156.5" text-anchor="middle" class="cbl">2</text>
<line x1="410.80" y1="149.9" x2="410.80" y2="151.0" stroke="#888" stroke-width="0.4"/>
<text x="410.80" y="156.5" text-anchor="middle" class="cbl">4</text>
<line x1="424.40" y1="149.9" x2="424.40" y2="151.0" stroke="#888" stroke-width="0.4"/>
<text x="424.40" y="156.5" text-anchor="middle" class="cbl">6</text>
<line x1="438.30" y1="149.9" x2="438.30" y2="151.0" stroke="#888" stroke-width="0.4"/>
<text x="438.30" y="156.5" text-anchor="middle" class="cbl">8</text>
<line x1="450.10" y1="149.9" x2="450.10" y2="151.0" stroke="#888" stroke-width="0.4"/>
<text x="450.10" y="156.5" text-anchor="middle" class="cbl">&gt;10</text>
<rect x="407.3" y="163.4" width="10.9" height="6.1" fill="#d9d9d9"/>
<text x="419.3" y="168.4" class="cbl" style="font-size:6.8px" text-anchor="start">=0</text>
</svg></body></html>
